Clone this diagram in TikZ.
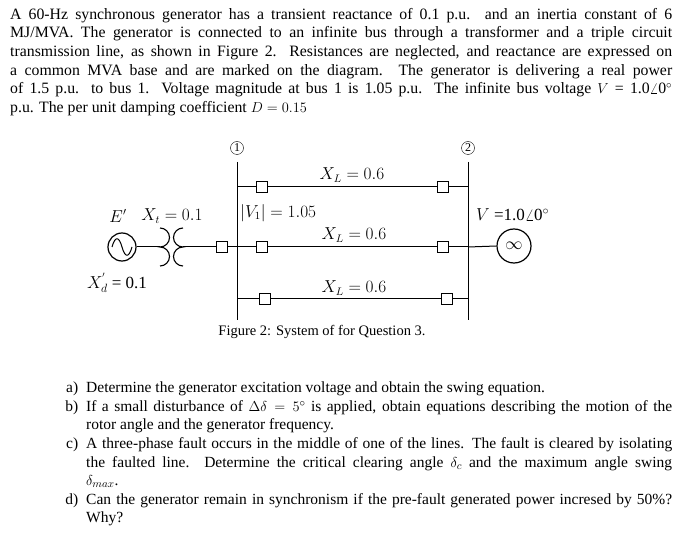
\documentclass[tikz,border=0pt]{standalone}
\usepackage{fontspec}
\setmainfont{Liberation Serif}
\begin{document}
\begin{tikzpicture}[x=1pt,y=-1pt,
  brk/.style={draw,fill=white,minimum size=11pt,inner sep=0pt,line width=0.8pt},
  wire/.style={line width=1pt},
  lbl/.style={inner sep=0pt,font=\fontsize{16}{18}\selectfont}]
\useasboundingbox (0,0) rectangle (681,540);
\node[anchor=north west,inner sep=0pt,text width=662pt,align=justify,font=\fontsize{15.8}{18.6}\selectfont] (para) at (10,8)
{A 60-Hz synchronous generator has a transient reactance of 0.1 p.u. and an inertia constant of 6\linebreak
MJ/MVA. The generator is connected to an infinite bus through a transformer and a triple circuit\linebreak
transmission line, as shown in Figure 2. Resistances are neglected, and reactance are expressed on\linebreak
a common MVA base and are marked on the diagram. The generator is delivering a real power\linebreak
of 1.5 p.u. to bus 1. Voltage magnitude at bus 1 is 1.05 p.u. The infinite bus voltage $V$ = 1.0$\angle$0$^\circ$\linebreak
p.u. The per unit damping coefficient $D=0.15$};
% buses
\coordinate (b1t) at (237,162); \coordinate (b1b) at (237,320);
\coordinate (b2t) at (468,162); \coordinate (b2b) at (468,320);
\draw[wire] (b1t) -- (b1b); \draw[wire] (b2t) -- (b2b);
\node[circle,draw,inner sep=0.5pt,minimum size=13pt,font=\fontsize{12}{12}\selectfont] (n1) at (237,148) {1};
\node[circle,draw,inner sep=0.5pt,minimum size=13pt,font=\fontsize{12}{12}\selectfont] (n2) at (468,148) {2};
% lines
\coordinate (l1a) at (237,187); \coordinate (l1b) at (468,187);
\coordinate (l2a) at (237,247); \coordinate (l2b) at (468,247);
\coordinate (l3a) at (237,299); \coordinate (l3b) at (468,299);
\draw[wire] (l1a) -- (l1b); \draw[wire] (l2a) -- (l2b); \draw[wire] (l3a) -- (l3b);
\node[brk] (s1a) at (262,187) {}; \node[brk] (s1b) at (443,187) {};
\node[brk] (s2a) at (262,247) {}; \node[brk] (s2b) at (443,247) {};
\node[brk] (s3a) at (265,299) {}; \node[brk] (s3b) at (447,299) {};
% generator
\node[circle,draw,line width=1.2pt,minimum size=28pt,inner sep=0pt] (gen) at (122,247) {};
\draw[line width=1pt] (112,247) .. controls (115,236) and (119,236) .. (122,247) .. controls (125,258) and (129,258) .. (132,247);
% transformer
\coordinate (tl) at (160,247); \coordinate (tr) at (183,247);
\draw[wire] (gen.east) -- (tl);
\draw[line width=1.1pt] (160,228) arc[start angle=-90,end angle=90,radius=9.5] arc[start angle=-90,end angle=90,radius=9.5];
\draw[line width=1.1pt] (183,228) arc[start angle=-90,end angle=-270,radius=9.5] arc[start angle=-90,end angle=-270,radius=9.5];
\draw[wire] (tr) -- (l2a);
\node[brk] (sg) at (222,247) {};
% infinite bus
\node[circle,draw,line width=1.2pt,minimum size=34pt,inner sep=0pt,font=\fontsize{18}{18}\selectfont] (inf) at (514,246) {$\infty$};
\draw[wire] (l2b) -- (inf.west);
% labels
\node[lbl] (E) at (118,216) {$E'$};
\node[lbl] (Xt) at (172,216) {$X_t=0.1$};
\node[lbl,font=\fontsize{17}{18}\selectfont] (Xd) at (117,283) {$X_d^{'}$ = 0.1};
\node[lbl,anchor=west] (V1) at (240,213) {$|V_1|=1.05$};
\node[lbl] (xl1) at (352,175) {$X_L=0.6$};
\node[lbl] (xl2) at (354,235) {$X_L=0.6$};
\node[lbl] (xl3) at (354,288) {$X_L=0.6$};
\node[lbl,anchor=west,font=\fontsize{17}{18}\selectfont] (V) at (476,215) {$V$ =1.0$\angle$0$^\circ$};
\node[inner sep=0pt,font=\fontsize{14.5}{16}\selectfont] (cap) at (322,332) {Figure 2: System of for Question 3.};
% questions
\node[anchor=north west,inner sep=0pt,text width=614pt,align=justify,font=\fontsize{15.5}{18.6}\selectfont] (q) at (58,374)
{\begin{list}{}{\leftmargin=28pt\labelwidth=20pt\labelsep=8pt\itemsep=0pt\topsep=0pt\parsep=0pt\partopsep=0pt}
\item[a)] Determine the generator excitation voltage and obtain the swing equation.
\item[b)] If a small disturbance of $\Delta\delta=5^\circ$ is applied, obtain equations describing the motion of the\linebreak rotor angle and the generator frequency.
\item[c)] A three-phase fault occurs in the middle of one of the lines. The fault is cleared by isolating\linebreak the faulted line. Determine the critical clearing angle $\delta_c$ and the maximum angle swing\linebreak $\delta_{max}$.
\item[d)] Can the generator remain in synchronism if the pre-fault generated power incresed by 50\%?\linebreak Why?
\end{list}};
\end{tikzpicture}
\end{document}
